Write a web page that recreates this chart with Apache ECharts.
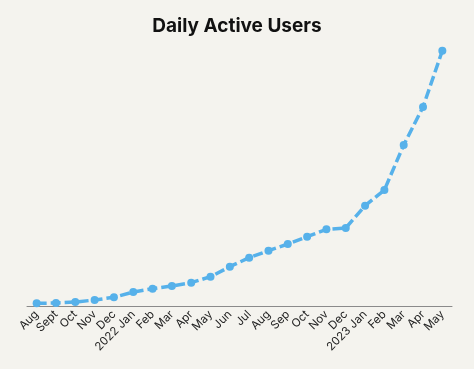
<!DOCTYPE html>
<html><head><meta charset="utf-8">
<script src="https://cdn.jsdelivr.net/npm/echarts@6/dist/echarts.min.js"></script>
<style>html,body{margin:0;padding:0;background:#f4f3ee;}#c{width:474px;height:369px;}</style>
</head><body><div id="c"></div>
<script>
const categories = ['Aug','Sept','Oct','Nov','Dec','2022 Jan','Feb','Mar','Apr','May','Jun','Jul','Aug','Sep','Oct','Nov','Dec','2023 Jan','Feb','Mar','Apr','May'];
const users = [3.2,3.5,4.5,6.5,9.2,14.5,17.8,20.5,23.8,29.8,39.8,48.8,55.8,62.5,69.8,77.2,78.5,100.8,116.5,161.5,199.5,255.8];
const chart = echarts.init(document.getElementById('c'));
chart.setOption({
  backgroundColor:'#f4f3ee',
  animation:false,
  title:{text:'Daily Active Users',left:'center',top:12,textStyle:{fontFamily:'Inter',fontWeight:'bold',fontSize:19,color:'#111'}},
  grid:{left:27,right:22,top:46.5,bottom:62.5},
  xAxis:{type:'category',data:categories,boundaryGap:true,
    axisLine:{lineStyle:{color:'#8a8a8a',width:1}},
    axisTick:{alignWithLabel:true,length:6,lineStyle:{color:'#8a8a8a'}},
    axisLabel:{rotate:45,interval:0,fontFamily:'Inter',fontSize:11.5,color:'#222',margin:6}},
  yAxis:{type:'value',min:0,max:260,show:false,splitLine:{show:false}},
  series:[{type:'line',data:users,symbol:'circle',symbolSize:8,
    itemStyle:{color:'#56b1ea'},
    lineStyle:{color:'#56b1ea',width:3.5,type:[10,4]}}]
});
</script></body></html>
